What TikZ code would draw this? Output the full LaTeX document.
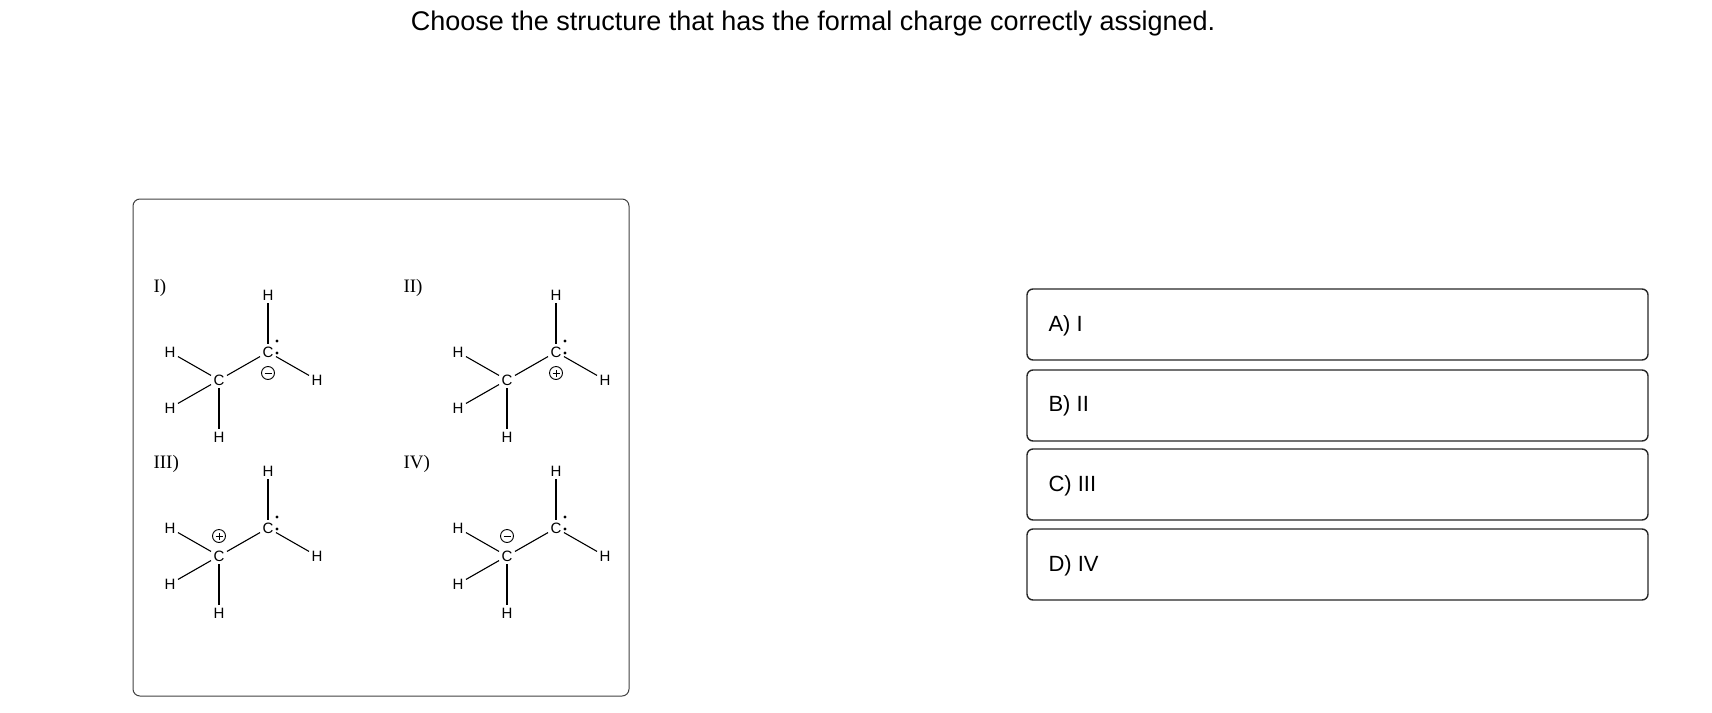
\documentclass[tikz,border=0pt]{standalone}
\usepackage{fontspec}
\setmainfont{Liberation Sans}
\newfontfamily\serifnum{Liberation Serif}
\begin{document}
\begin{tikzpicture}[x=1pt,y=-1pt,
  atom/.style={inner sep=1.5pt,font=\fontsize{15}{15}\selectfont},
  bond/.style={line width=1.1pt,shorten <=1pt,shorten >=1pt},
  chg/.style={circle,draw,line width=0.9pt,minimum size=13pt,inner sep=0pt},
  rom/.style={anchor=west,font=\serifnum\fontsize{19}{19}\selectfont},
  btn/.style={draw=black!85,line width=1.4pt,rounded corners=6pt,minimum width=621pt,minimum height=71pt},
  btnlabel/.style={anchor=west,font=\fontsize{22}{22}\selectfont}]
\useasboundingbox (0,0) rectangle (1712,712);
\node[font=\fontsize{27}{27}\selectfont] (title) at (813,24) {Choose the structure that has the formal charge correctly assigned.};
\draw[black!75,line width=1pt,rounded corners=7pt] (133,199) rectangle (629,696);
\newcommand\mymol[7]{% prefix, dx, dy, label, charge sign, charge position, label x
  \begin{scope}[shift={(#2,#3)}]
  \node[rom] (#1lab) at (#7,288) {#4};
  \node[atom] (#1c1) at (219,380) {C};
  \node[atom] (#1c2) at (268,352) {C};
  \node[atom] (#1h1) at (170,352) {H};
  \node[atom] (#1h2) at (170,408) {H};
  \node[atom] (#1h3) at (219,437) {H};
  \node[atom] (#1h4) at (268,295) {H};
  \node[atom] (#1h5) at (317,380) {H};
  \draw[bond] (#1c1) -- (#1c2);
  \draw[bond] (#1c1) -- (#1h1);
  \draw[bond] (#1c1) -- (#1h2);
  \draw[bond] (#1c1) -- (#1h3);
  \draw[bond] (#1c2) -- (#1h4);
  \draw[bond] (#1c2) -- (#1h5);
  \fill (277,341) circle (1.6pt) (277,353) circle (1.6pt);
  \ifnum#6=0 \node[chg] (#1q) at (268,373) {};\else\node[chg] (#1q) at (219,360) {};\fi
  \draw[line width=0.9pt] ([xshift=-3.5pt]#1q.center) -- ([xshift=3.5pt]#1q.center);
  \if#5p\draw[line width=0.9pt] ([yshift=-3.5pt]#1q.center) -- ([yshift=3.5pt]#1q.center);\fi
  \end{scope}}
\mymol{a}{0}{0}{I)}{m}{0}{150}
\mymol{b}{288}{0}{II)}{p}{0}{112}
\mymol{c}{0}{176}{III)}{p}{1}{150}
\mymol{d}{288}{176}{IV)}{m}{1}{112}
\node[btn] (bA) at (1337.5,324.5) {};
\node[btn] (bB) at (1337.5,405.5) {};
\node[btn] (bC) at (1337.5,484.5) {};
\node[btn] (bD) at (1337.5,564.5) {};
\node[btnlabel] (tA) at (1045,326) {A) I};
\node[btnlabel] (tB) at (1045,406) {B) II};
\node[btnlabel] (tC) at (1045,486) {C) III};
\node[btnlabel] (tD) at (1045,566) {D) IV};
\end{tikzpicture}
\end{document}
